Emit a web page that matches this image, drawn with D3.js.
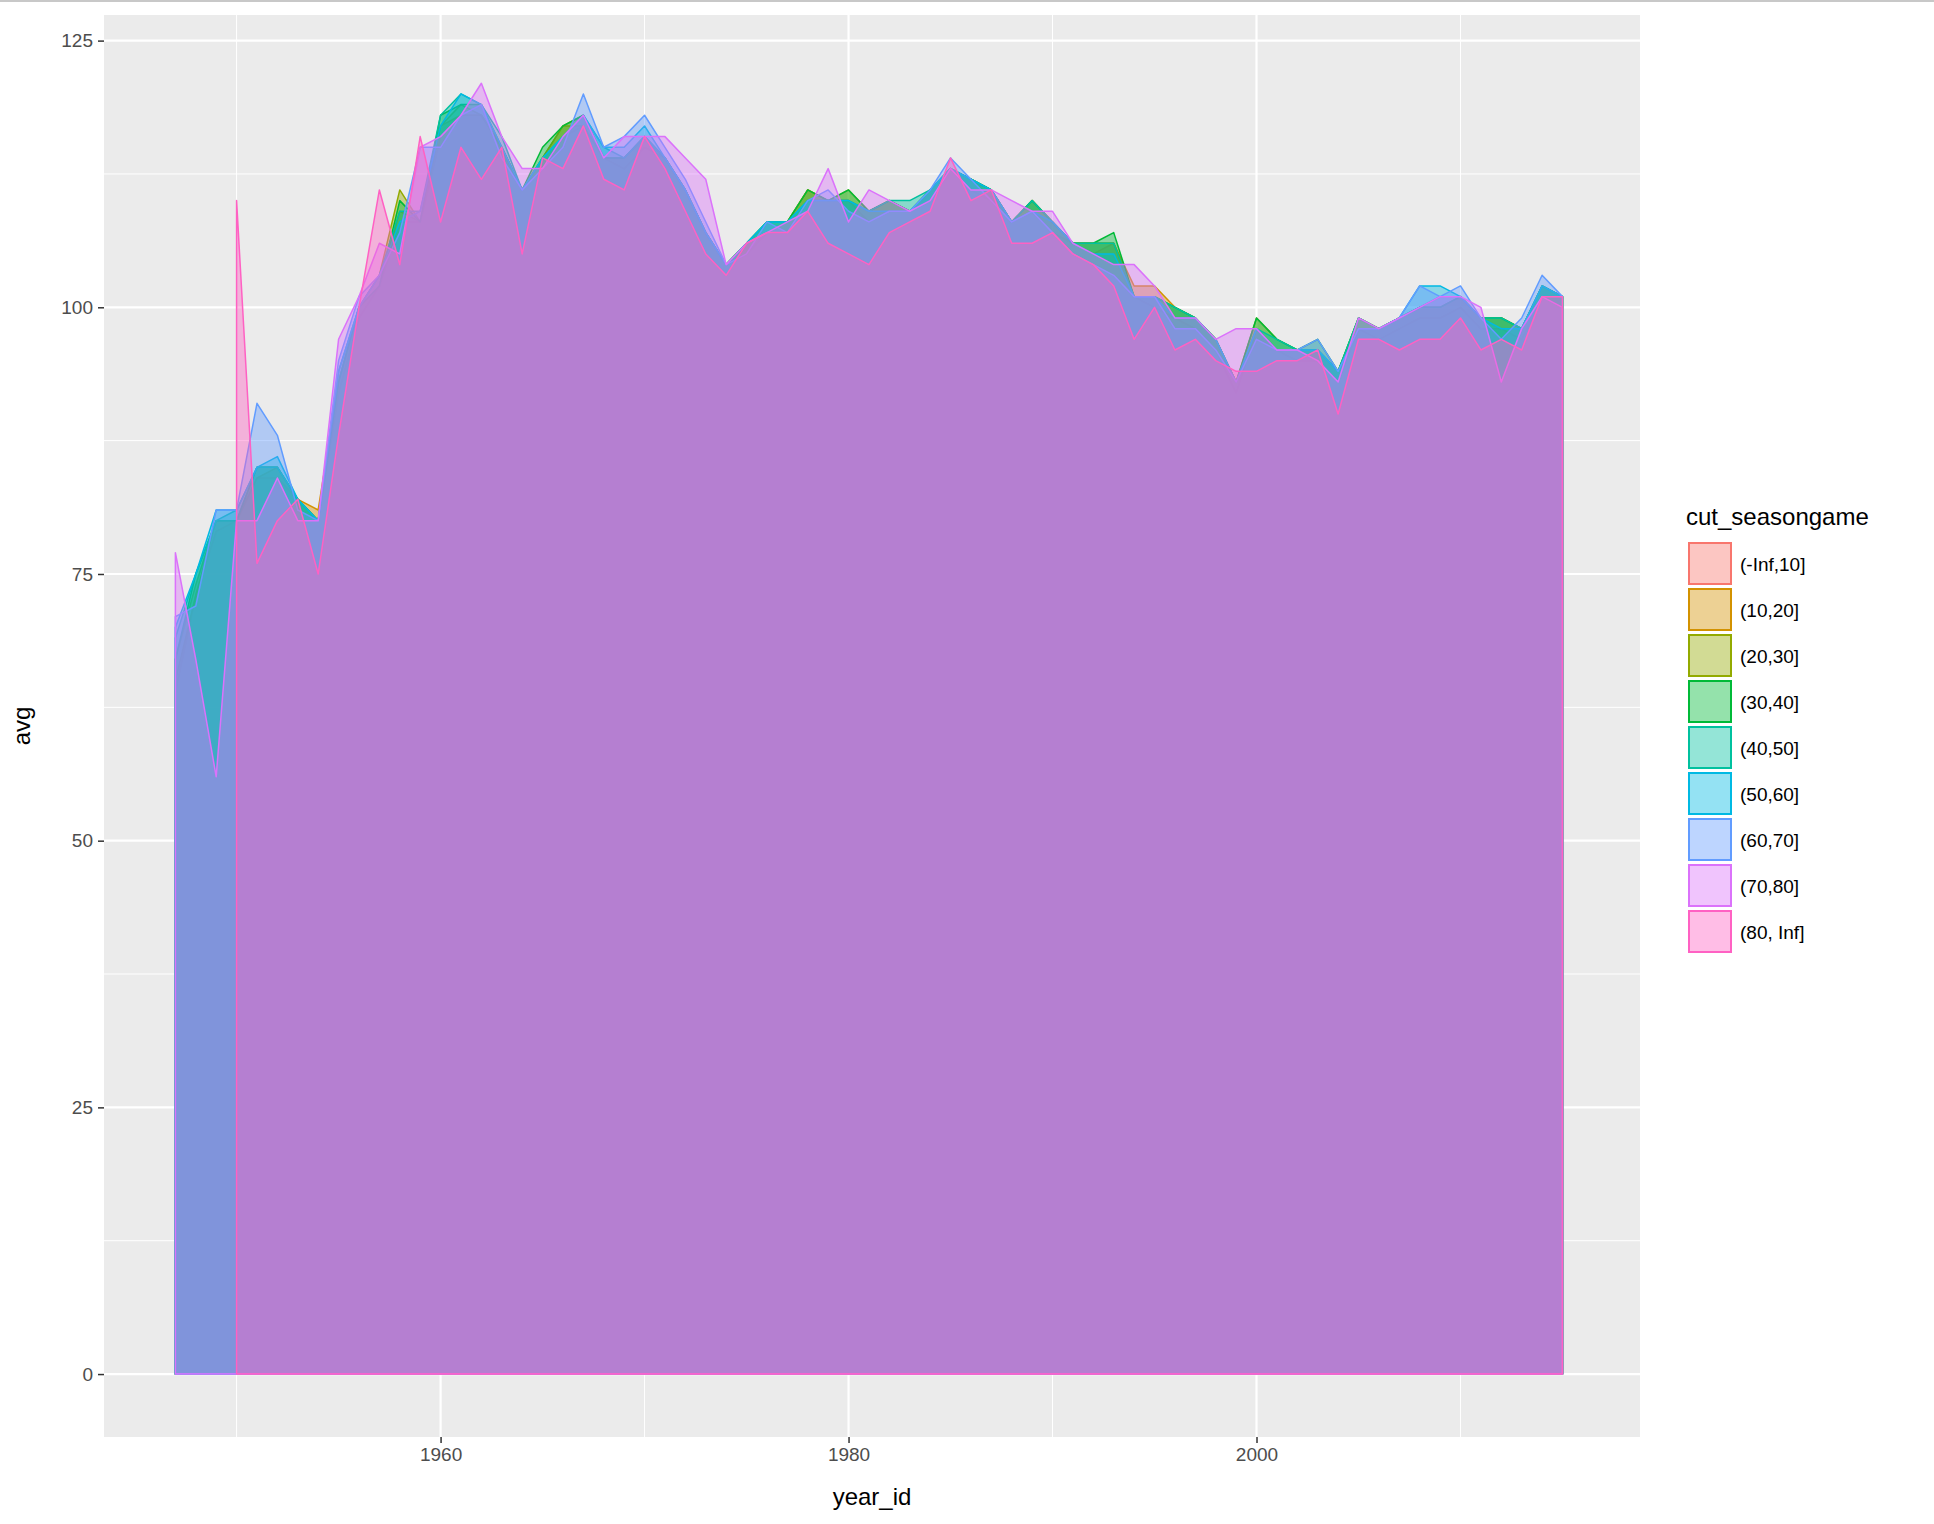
<!DOCTYPE html>
<html><head><meta charset="utf-8">
<script src="https://cdn.jsdelivr.net/npm/d3@7"></script>
<style>body{margin:0;background:#fff;font-family:"Liberation Sans",Arial,sans-serif;}</style>
</head><body><div id="chart"></div>
<script>
// --data
const groups = ["(-Inf,10]","(10,20]","(20,30]","(30,40]","(40,50]","(50,60]","(60,70]","(70,80]","(80, Inf]"];
const colors = ["#F8766D","#D39200","#93AA00","#00BA38","#00C19F","#00B9E3","#619CFF","#DB72FB","#FF61C3"];
const startYears = [1947,1947,1947,1947,1947,1947,1947,1947,1950];
const yTicks = [0,25,50,75,100,125];
const xTicks = [1960,1980,2000];

const s0 = [64,73,79,80,84,84,82,80,92,99,102,108,108,116,118,118,115,111,113,116,117,114,113,115,114,111,107,104,105,107,107,110,110,110,108,109,109,110,113,111,110,108,109,107,106,105,106,101,100,99,98,96,92,98,96,95,95,93,98,97,98,99,99,100,98,98,97,101,100];
const s1 = [65,73,80,80,84,85,82,81,93,100,102,109,108,117,118,118,115,111,114,117,117,114,114,116,114,111,107,104,106,107,108,111,110,110,109,110,109,111,113,112,111,108,110,108,106,106,106,102,102,100,99,97,93,98,96,96,96,94,98,98,99,100,100,101,99,99,98,102,101];
const s2 = [67,74,80,80,85,85,82,80,93,100,103,111,108,117,119,118,115,111,114,117,118,114,114,116,114,111,107,104,106,108,108,111,110,111,109,110,109,111,113,112,111,108,110,108,106,106,106,101,101,100,99,97,93,99,97,96,96,94,99,98,99,100,100,101,99,99,98,102,101];
const s3 = [67,75,80,80,85,85,82,80,93,100,102,110,108,118,119,119,115,111,115,117,118,114,114,116,114,111,107,104,106,108,108,111,110,111,109,110,109,111,113,112,111,108,110,108,106,106,107,101,101,100,99,97,93,99,97,96,97,94,99,98,99,100,100,101,99,99,98,102,101];
const s4 = [69,75,80,81,85,85,82,80,94,100,103,109,109,118,120,119,116,111,114,116,118,115,114,116,114,111,107,104,106,108,108,110,110,110,109,110,110,111,113,112,111,108,110,108,106,106,106,101,101,100,99,97,93,98,97,96,96,94,99,98,99,100,101,101,99,99,98,102,101];
const s5 = [70,75,81,81,85,86,82,80,94,100,103,108,109,117,120,119,115,111,114,116,118,115,115,117,114,111,107,104,106,108,108,110,110,110,109,109,109,111,113,112,111,108,109,108,106,105,105,101,101,99,99,97,93,98,96,96,96,94,98,98,99,102,102,101,99,98,98,102,101];
const s6 = [71,72,81,81,91,88,81,80,95,101,103,107,115,115,118,119,114,111,113,115,120,115,116,118,115,112,108,104,105,108,107,110,111,109,108,109,109,111,114,112,110,108,109,107,105,104,103,101,101,98,98,96,93,97,96,96,97,94,98,98,99,102,101,102,99,97,99,103,101];
const s7 = [77,67,56,80,80,84,80,80,97,101,106,105,115,116,118,121,116,113,113,116,118,114,116,116,116,114,112,104,106,107,108,109,113,108,111,110,109,110,113,111,111,110,109,109,106,105,104,104,102,99,99,97,98,98,96,96,95,93,99,98,99,100,101,101,100,93,98,101,100];
const s8 = [110,76,80,82,75,88,100,111,104,116,108,115,112,115,105,114,113,117,112,111,116,113,109,105,103,106,107,107,109,106,105,104,107,108,109,114,110,111,106,106,107,105,104,102,97,100,96,97,95,94,94,95,95,96,90,97,97,96,97,97,99,96,97,96,101,101];
const seriesValues = [s0,s1,s2,s3,s4,s5,s6,s7,s8];

const series = groups.map((g,i) => ({
  name: g, color: colors[i],
  values: seriesValues[i].map((v,j) => ({year: startYears[i]+j, avg: v}))
}));

// --layout
const W = 1934, H = 1524;
const P = {left:104, right:1640, top:15, bottom:1437};

const svg = d3.select("#chart").append("svg").attr("width",W).attr("height",H);
svg.append("rect").attr("width",W).attr("height",H).attr("fill","#fff");
svg.append("line").attr("x1",0).attr("x2",W).attr("y1",1).attr("y2",1).attr("stroke","#c8c8c8").attr("stroke-width",2);

const x = d3.scaleLinear().domain([1943.5,2018.8]).range([P.left,P.right]);
const y = d3.scaleLinear().domain([-5.9,127.4]).range([P.bottom,P.top]);

svg.append("rect").attr("x",P.left).attr("y",P.top)
  .attr("width",P.right-P.left).attr("height",P.bottom-P.top).attr("fill","#EBEBEB");

// grid
const g = svg.append("g");
const yMinor = [12.5,37.5,62.5,87.5,112.5];
const xMinor = [1950,1970,1990,2010];
yMinor.forEach(v => g.append("line").attr("x1",P.left).attr("x2",P.right).attr("y1",y(v)).attr("y2",y(v)).attr("stroke","#fff").attr("stroke-width",1));
xMinor.forEach(v => g.append("line").attr("y1",P.top).attr("y2",P.bottom).attr("x1",x(v)).attr("x2",x(v)).attr("stroke","#fff").attr("stroke-width",1));
yTicks.forEach(v => g.append("line").attr("x1",P.left).attr("x2",P.right).attr("y1",y(v)).attr("y2",y(v)).attr("stroke","#fff").attr("stroke-width",2.2));
xTicks.forEach(v => g.append("line").attr("y1",P.top).attr("y2",P.bottom).attr("x1",x(v)).attr("x2",x(v)).attr("stroke","#fff").attr("stroke-width",2.2));

// areas
const area = d3.area().x(d => x(d.year)).y0(y(0)).y1(d => y(d.avg));
const areaG = svg.append("g");
series.forEach(s => {
  areaG.append("path").datum(s.values).attr("d",area)
    .attr("fill",s.color).attr("fill-opacity",0.42)
    .attr("stroke",s.color).attr("stroke-width",1.5).attr("stroke-linejoin","round");
});

// axes
const yAxis = svg.append("g").attr("transform",`translate(${P.left},0)`)
  .call(d3.axisLeft(y).tickValues(yTicks).tickSize(6).tickPadding(5));
const xAxis = svg.append("g").attr("transform",`translate(0,${P.bottom})`)
  .call(d3.axisBottom(x).tickValues(xTicks).tickFormat(d3.format("d")).tickSize(6).tickPadding(5));
[yAxis,xAxis].forEach(a => {
  a.select(".domain").remove();
  a.selectAll(".tick line").attr("stroke","#333").attr("stroke-width",1.5);
  a.selectAll(".tick text").attr("fill","#4D4D4D").style("font-size","19px").style("font-family","Liberation Sans, Arial, sans-serif");
});

svg.append("text").attr("x",(P.left+P.right)/2).attr("y",1505).attr("text-anchor","middle")
  .style("font-size","24px").text("year_id");
svg.append("text").attr("transform",`translate(30,${(P.top+P.bottom)/2}) rotate(-90)`)
  .attr("text-anchor","middle").style("font-size","24px").text("avg");

// legend
const leg = svg.append("g");
leg.append("text").attr("x",1686).attr("y",525).style("font-size","24px").text("cut_seasongame");
series.forEach((s,i) => {
  const yy = 542 + i*46;
  leg.append("rect").attr("x",1689).attr("y",yy+1).attr("width",42).attr("height",41)
    .attr("fill","#fff");
  leg.append("rect").attr("x",1689).attr("y",yy+1).attr("width",42).attr("height",41)
    .attr("fill",s.color).attr("fill-opacity",0.42).attr("stroke",s.color).attr("stroke-width",2);
  leg.append("text").attr("x",1740).attr("y",yy+29).style("font-size",19).text(s.name);
});
</script></body></html>
